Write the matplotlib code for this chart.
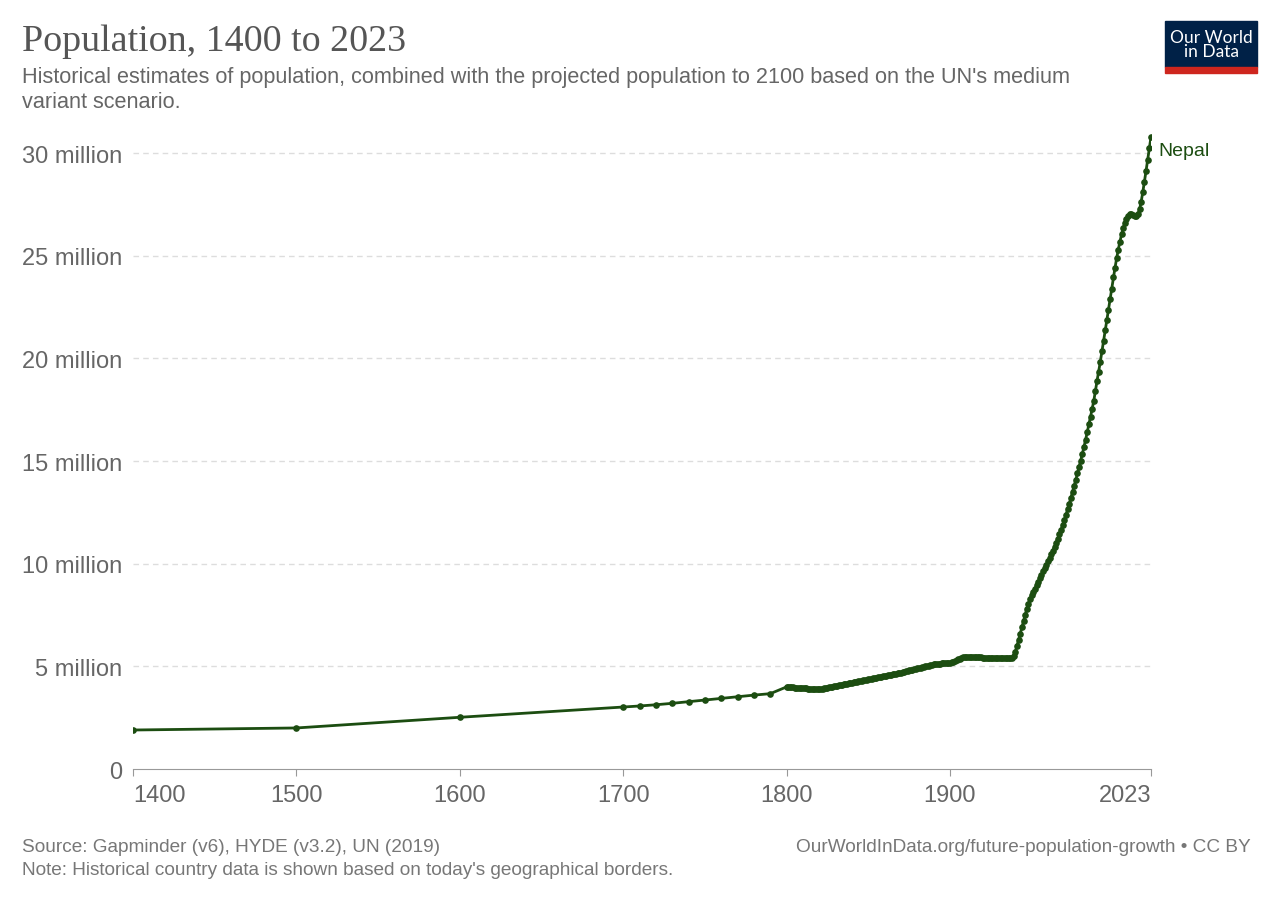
import matplotlib
matplotlib.use("Agg")
import matplotlib.pyplot as plt
from matplotlib.patches import Rectangle
from matplotlib.ticker import FuncFormatter

plt.rcParams["font.family"] = ["Liberation Sans", "DejaVu Sans"]

# sparse historical estimates
early_years = [1400, 1500, 1600, 1700, 1710, 1720, 1730, 1740, 1750, 1760, 1770, 1780, 1790]
early_pop = [1.90, 2.00, 2.52, 3.02, 3.07, 3.13, 3.20, 3.28, 3.36, 3.44, 3.52, 3.60, 3.67]

# annual values 1800-2023 (millions)
annual_years = list(range(1800, 2024))
annual_pop = [
    4.00, 3.99, 3.99, 3.98, 3.98, 3.97, 3.96, 3.96, 3.95, 3.95,
    3.94, 3.93, 3.93, 3.92, 3.91, 3.91, 3.90, 3.90, 3.89, 3.88,
    3.88, 3.89, 3.91, 3.93, 3.94, 3.96, 3.98, 3.99, 4.01, 4.02,
    4.04, 4.06, 4.07, 4.09, 4.11, 4.12, 4.14, 4.16, 4.17, 4.19,
    4.21, 4.22, 4.24, 4.25, 4.27, 4.29, 4.30, 4.32, 4.34, 4.35,
    4.37, 4.39, 4.40, 4.42, 4.44, 4.45, 4.47, 4.48, 4.50, 4.52,
    4.53, 4.55, 4.57, 4.58, 4.60, 4.62, 4.63, 4.65, 4.67, 4.68,
    4.70, 4.72, 4.74, 4.76, 4.78, 4.80, 4.82, 4.84, 4.86, 4.88,
    4.90, 4.92, 4.94, 4.96, 4.98, 5.00, 5.02, 5.04, 5.06, 5.08,
    5.10, 5.11, 5.12, 5.13, 5.13, 5.14, 5.15, 5.16, 5.17, 5.17,
    5.18, 5.20, 5.23, 5.26, 5.30, 5.34, 5.38, 5.41, 5.44, 5.45,
    5.46, 5.46, 5.45, 5.45, 5.45, 5.45, 5.44, 5.44, 5.44, 5.44,
    5.43, 5.43, 5.43, 5.43, 5.42, 5.42, 5.42, 5.42, 5.41, 5.41,
    5.41, 5.41, 5.40, 5.40, 5.40, 5.40, 5.40, 5.39, 5.39, 5.50,
    5.72, 6.00, 6.30, 6.60, 6.90, 7.20, 7.50, 7.80, 8.05, 8.28,
    8.48, 8.63, 8.79, 8.95, 9.11, 9.28, 9.45, 9.63, 9.81, 9.96,
    10.11, 10.28, 10.46, 10.64, 10.83, 11.02, 11.22, 11.43, 11.65, 11.88,
    12.12, 12.38, 12.65, 12.92, 13.21, 13.50, 13.79, 14.09, 14.40, 14.71,
    15.02, 15.35, 15.69, 16.04, 16.41, 16.78, 17.16, 17.55, 17.93, 18.42,
    18.91, 19.36, 19.84, 20.34, 20.85, 21.36, 21.87, 22.38, 22.88, 23.40,
    23.94, 24.42, 24.88, 25.30, 25.69, 26.04, 26.34, 26.59, 26.79, 26.94,
    27.01, 27.02, 26.99, 26.94, 26.91, 27.02, 27.26, 27.63, 28.10, 28.61,
    29.14, 29.67, 30.23, 30.78,
]

years = early_years + annual_years
pop = early_pop + annual_pop

x_ticks = [1400, 1500, 1600, 1700, 1800, 1900, 2023]
y_ticks = [0, 5, 10, 15, 20, 25, 30]

line_color = "#1c4d11"
grey = "#666666"

fig = plt.figure(figsize=(12.8, 9.04), dpi=100)
ax = fig.add_axes([0.1039, 0.1482, 0.7953, 0.7041])

ax.plot(years, pop, color=line_color, lw=2, marker="o", ms=4.8,
        markeredgewidth=0, solid_joinstyle="round", zorder=3)

ax.set_xlim(1400, 2023)
ax.set_ylim(0, 31)
ax.set_xticks(x_ticks)
ax.set_yticks(y_ticks)
ax.yaxis.set_major_formatter(FuncFormatter(lambda v, p: "0" if v == 0 else f"{int(v)} million"))

for s in ["top", "right", "left"]:
    ax.spines[s].set_visible(False)
ax.spines["bottom"].set_color("#999999")
ax.tick_params(axis="x", colors="#999999", labelcolor=grey, labelsize=17, length=5, pad=6)
ax.tick_params(axis="y", length=0, labelcolor=grey, labelsize=17, pad=8)
xlabels = ax.get_xticklabels()
xlabels[0].set_ha("left")
xlabels[-1].set_ha("right")
for y in y_ticks[1:]:
    ax.axhline(y, color="#dddddd", lw=1, ls=(0, (4, 3)), zorder=1)

ax.text(2023 + 4.5, pop[-1] - 0.65, "Nepal", color=line_color, fontsize=14,
        va="center", ha="left", clip_on=False)

fig.text(22 / 1280, 1 - 42 / 904, "Population, 1400 to 2023", family="Liberation Serif",
         fontsize=27.4, color="#555555", va="center")
fig.text(22 / 1280, 1 - 77 / 904,
         "Historical estimates of population, combined with the projected population to 2100 based on the UN's medium",
         fontsize=15.6, color=grey, va="center")
fig.text(22 / 1280, 1 - 102 / 904, "variant scenario.", fontsize=15.6, color=grey, va="center")

fig.text(22 / 1280, 1 - 848 / 904, "Source: Gapminder (v6), HYDE (v3.2), UN (2019)",
         fontsize=13.7, color="#777777", va="center")
fig.text(22 / 1280, 1 - 871 / 904, "Note: Historical country data is shown based on today's geographical borders.",
         fontsize=13.7, color="#777777", va="center")
fig.text(1251 / 1280, 1 - 848 / 904, "OurWorldInData.org/future-population-growth \u2022 CC BY",
         fontsize=13.7, color="#777777", va="center", ha="right")

# logo
fig.patches.append(Rectangle((1165 / 1280, 1 - 68 / 904), 92 / 1280, 46 / 904,
                             transform=fig.transFigure, color="#002147"))
fig.patches.append(Rectangle((1165 / 1280, 1 - 74 / 904), 92 / 1280, 6 / 904,
                             transform=fig.transFigure, color="#ce261e"))
fig.text(1211 / 1280, 1 - 45 / 904, "Our World\nin Data", color="white", fontsize=12.5,
         family="Lato", ha="center", va="center", linespacing=0.9)

fig.savefig("out.png", dpi=100, facecolor="white")
